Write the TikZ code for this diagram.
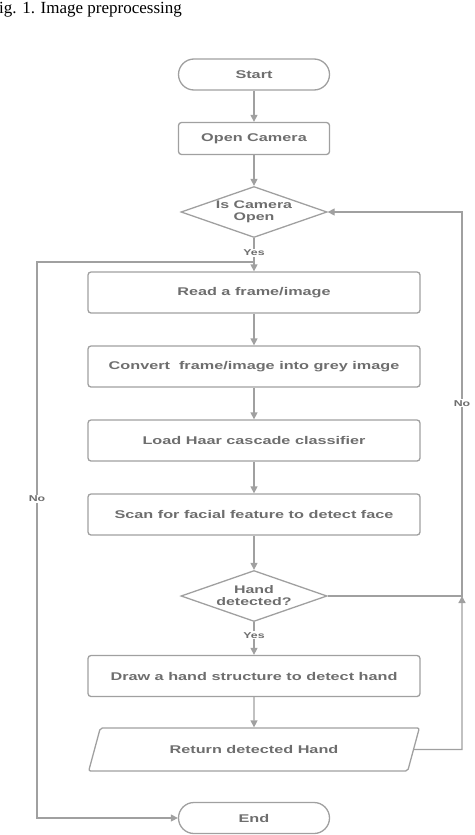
\documentclass[tikz,border=0pt]{standalone}
\usepackage{fontspec}
\setmainfont{Liberation Serif}
\setsansfont{Liberation Sans}[FakeStretch=1.45]
\usepackage{tikz}
\usetikzlibrary{positioning,shapes,shapes.geometric,arrows.meta}
\definecolor{lineg}{HTML}{A0A0A0}
\definecolor{textg}{HTML}{6E6E6E}
\tikzset{%
	terminal/.style={%
		rectangle,
		rounded corners=15.5pt,
		minimum width=151pt,
		minimum height=31pt,
		draw=lineg,
		line width=1.3pt
	},
	process/.style={%
		rectangle,
		rounded corners=3pt,
		minimum width=332pt,
		minimum height=41pt,
		draw=lineg,
		line width=1.3pt
	},
	decision/.style={%
		diamond,
		shape aspect=2.86,
		inner sep=0pt,
		minimum width=146pt,
		minimum height=51pt,
		align=center,
		draw=lineg,
		line width=1.3pt,
		font=\sffamily\bfseries\fontsize{11}{12}\selectfont
	},
	inout/.style={%
		trapezium,
		trapezium left angle=66,
		trapezium right angle=114,
		trapezium stretches=true,
		rounded corners=2pt,
		minimum width=331pt,
		minimum height=43pt,
		draw=lineg,
		line width=1.3pt
	},
	arr/.style={%
		draw=lineg,
		line width=1.3pt,
		-{Triangle[length=7pt,width=7pt]}
	},
	tag/.style={%
		fill=white,
		inner sep=1pt,
		text=textg,
		font=\sffamily\bfseries\fontsize{8.5}{9}\selectfont
	}
}

\begin{document}
\begin{tikzpicture}[x=1pt, y=-1pt, every node/.style={text=textg, font=\sffamily\bfseries\fontsize{11.2}{13}\selectfont}]
	\useasboundingbox (0,0) rectangle (474,835);
	\node [anchor=base west, inner sep=0pt, text=black, font=\rmfamily\fontsize{17}{20}\selectfont] (cap) at (-1,13) {ig. 1. Image preprocessing};
	% main column
	\node [terminal] (start) at (254,74.5) {Start};
	\node [process, minimum width=151pt, minimum height=32pt] (opencam) at (254,138.5) {Open Camera};
	\node [decision] (iscam) at (254,212) {Is Camera\\Open};
	\node [process] (read) at (254,292.5) {Read a frame/image};
	\node [process] (grey) at (254,366.5) {Convert\ \ frame/image into grey image};
	\node [process] (haar) at (254,440.5) {Load Haar cascade classifier};
	\node [process] (scan) at (254,514.5) {Scan for facial feature to detect face};
	\node [decision] (hand) at (254,596) {Hand\\detected?};
	\node [process] (drawhand) at (254,676) {Draw a hand structure to detect hand};
	\node [inout] (ret) at (254,749.5) {Return detected Hand};
	\node [terminal] (end) at (254,818) {End};
	% loop points
	\coordinate (yesjoin) at (254,262);
	\coordinate (leftturn) at (37,262);
	\coordinate (rightturn) at (462,596);
	\coordinate (retturn) at (462,749.5);
	% connectors
	\draw [arr] (start) -- (opencam);
	\draw [arr] (opencam) -- (iscam);
	\draw [arr] (iscam) -- node [tag, pos=0.45] {Yes} (read);
	\draw [arr] (read) -- (grey);
	\draw [arr] (grey) -- (haar);
	\draw [arr] (haar) -- (scan);
	\draw [arr] (scan) -- (hand);
	\draw [arr] (hand) -- node [tag, pos=0.4] {Yes} (drawhand);
	\draw [arr] (drawhand) -- (ret);
	\draw [arr] (yesjoin) -- (leftturn) |- node [tag, pos=0.213] {No} (end);
	\draw [arr] (hand.east) -- (rightturn) |- node [tag, pos=0.251] {No} (iscam.east);
	\draw [arr] (ret.east) -- (retturn) -- (rightturn);
\end{tikzpicture}
\end{document}
